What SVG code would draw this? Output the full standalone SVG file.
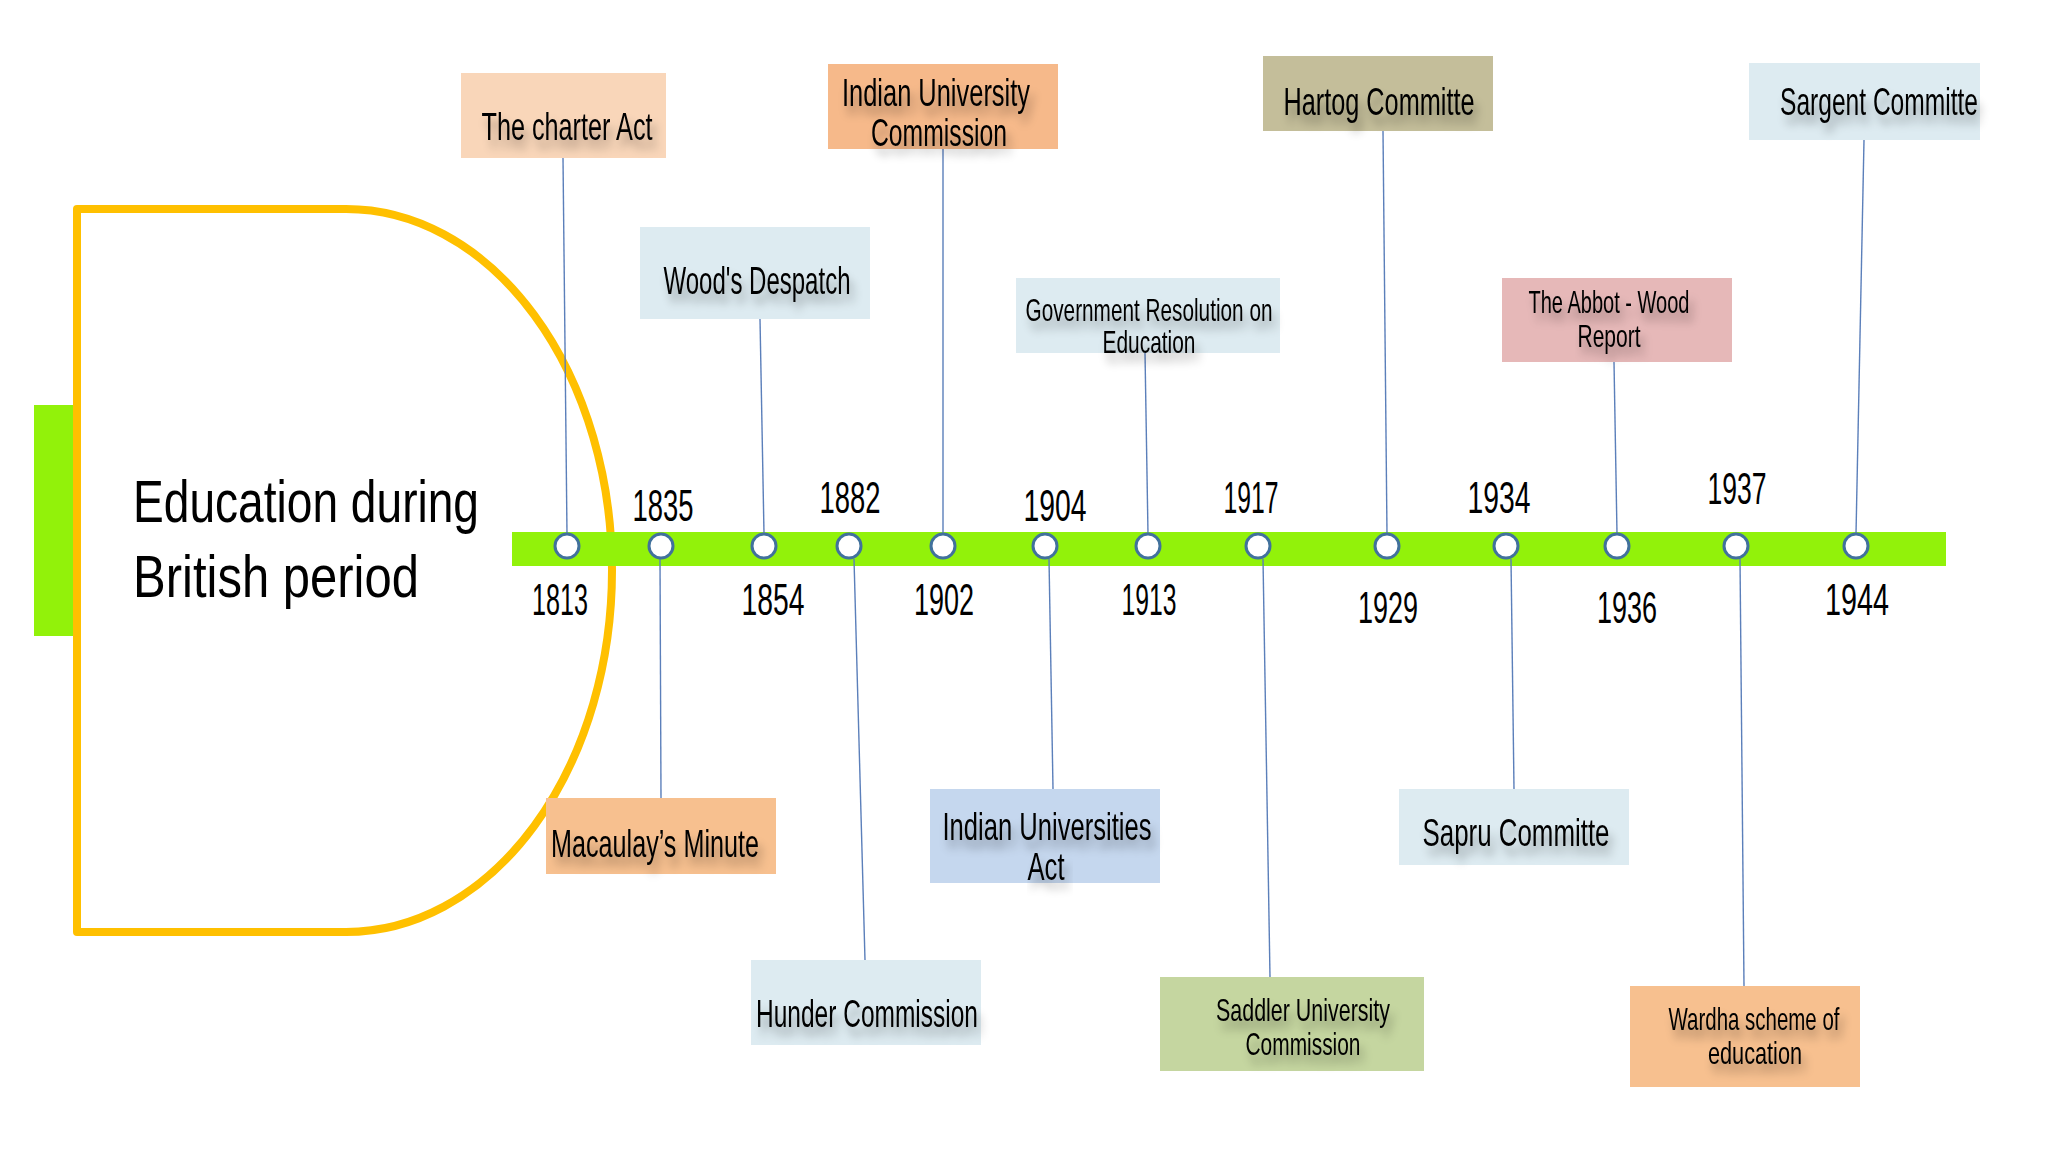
<svg xmlns="http://www.w3.org/2000/svg" width="2048" height="1152" viewBox="0 0 2048 1152">
<defs>
<filter id="ts" x="-10%" y="-30%" width="130%" height="190%">
<feGaussianBlur in="SourceAlpha" stdDeviation="5"/>
<feOffset dx="4" dy="9" result="b"/>
<feComponentTransfer><feFuncA type="linear" slope="0.35"/></feComponentTransfer>
<feMerge><feMergeNode/><feMergeNode in="SourceGraphic"/></feMerge>
</filter>
</defs>
<style>
text{font-family:"Liberation Sans",Arial,sans-serif;fill:#000;}
.lbl{font-size:38px;text-anchor:middle;filter:url(#ts);}
.sm{font-size:32px;text-anchor:middle;filter:url(#ts);}
.yr{font-size:44px;text-anchor:middle;}
.title{font-size:60px;}
.con{stroke:#5B7FBA;stroke-width:1.4;fill:none;}
.dot{fill:#fff;stroke:#41719C;stroke-width:3;}
</style>
<rect width="2048" height="1152" fill="#fff"/>
<g id="title-block">
<rect x="34" y="405" width="40" height="231" fill="#92F20A"/>
<path d="M77,209 H346 A266,361.5 0 0 1 346,932 H77 Z" fill="#fff" stroke="#FFC000" stroke-width="8" stroke-linejoin="round"/>
<text class="title" x="133" y="522" textLength="346" lengthAdjust="spacingAndGlyphs">Education during</text>
<text class="title" x="133" y="597" textLength="286" lengthAdjust="spacingAndGlyphs">British period</text>
</g>
<g id="timeline">
<rect x="512" y="532" width="1434" height="34" fill="#92F20A"/>
</g>
<g id="connectors">
<line class="con" x1="563" y1="158" x2="567" y2="534"/>
<line class="con" x1="760" y1="319" x2="764" y2="534"/>
<line class="con" x1="943" y1="149" x2="943" y2="534"/>
<line class="con" x1="1145" y1="353" x2="1148" y2="534"/>
<line class="con" x1="1383" y1="131" x2="1387" y2="534"/>
<line class="con" x1="1614" y1="362" x2="1617" y2="534"/>
<line class="con" x1="1864" y1="140" x2="1856" y2="534"/>
<line class="con" x1="660" y1="559" x2="661" y2="798"/>
<line class="con" x1="854" y1="559" x2="865" y2="960"/>
<line class="con" x1="1049" y1="559" x2="1053" y2="789"/>
<line class="con" x1="1263" y1="559" x2="1270" y2="977"/>
<line class="con" x1="1511" y1="559" x2="1514" y2="789"/>
<line class="con" x1="1740" y1="559" x2="1744" y2="986"/>
</g>
<g id="dots">
<circle class="dot" cx="567" cy="546" r="12"/>
<circle class="dot" cx="661" cy="546" r="12"/>
<circle class="dot" cx="764" cy="546" r="12"/>
<circle class="dot" cx="849" cy="546" r="12"/>
<circle class="dot" cx="943" cy="546" r="12"/>
<circle class="dot" cx="1045" cy="546" r="12"/>
<circle class="dot" cx="1148" cy="546" r="12"/>
<circle class="dot" cx="1258" cy="546" r="12"/>
<circle class="dot" cx="1387" cy="546" r="12"/>
<circle class="dot" cx="1506" cy="546" r="12"/>
<circle class="dot" cx="1617" cy="546" r="12"/>
<circle class="dot" cx="1736" cy="546" r="12"/>
<circle class="dot" cx="1856" cy="546" r="12"/>
</g>
<g id="years">
<text class="yr" x="560" y="615" textLength="56" lengthAdjust="spacingAndGlyphs">1813</text>
<text class="yr" x="663" y="521" textLength="61" lengthAdjust="spacingAndGlyphs">1835</text>
<text class="yr" x="773" y="615" textLength="63" lengthAdjust="spacingAndGlyphs">1854</text>
<text class="yr" x="850" y="513" textLength="61" lengthAdjust="spacingAndGlyphs">1882</text>
<text class="yr" x="944" y="615" textLength="60" lengthAdjust="spacingAndGlyphs">1902</text>
<text class="yr" x="1055" y="521" textLength="63" lengthAdjust="spacingAndGlyphs">1904</text>
<text class="yr" x="1149" y="615" textLength="55" lengthAdjust="spacingAndGlyphs">1913</text>
<text class="yr" x="1251" y="513" textLength="55" lengthAdjust="spacingAndGlyphs">1917</text>
<text class="yr" x="1388" y="623" textLength="60" lengthAdjust="spacingAndGlyphs">1929</text>
<text class="yr" x="1499" y="513" textLength="63" lengthAdjust="spacingAndGlyphs">1934</text>
<text class="yr" x="1627" y="623" textLength="60" lengthAdjust="spacingAndGlyphs">1936</text>
<text class="yr" x="1737" y="504" textLength="59" lengthAdjust="spacingAndGlyphs">1937</text>
<text class="yr" x="1857" y="615" textLength="64" lengthAdjust="spacingAndGlyphs">1944</text>
</g>
<g id="n-charter-act">
<rect x="461" y="73" width="205" height="85" fill="#F9D6B9"/>
<text class="lbl" x="567" y="140" textLength="171" lengthAdjust="spacingAndGlyphs">The charter Act</text>
</g>
<g id="n-woods-despatch">
<rect x="640" y="227" width="230" height="92" fill="#DDEBF1"/>
<text class="lbl" x="757" y="294" textLength="187" lengthAdjust="spacingAndGlyphs">Wood's Despatch</text>
</g>
<g id="n-indian-university-commission">
<rect x="828" y="64" width="230" height="85" fill="#F6B98A"/>
<text class="lbl" x="936" y="106" textLength="188" lengthAdjust="spacingAndGlyphs">Indian University</text>
<text class="lbl" x="939" y="146" textLength="136" lengthAdjust="spacingAndGlyphs">Commission</text>
</g>
<g id="n-government-resolution">
<rect x="1016" y="278" width="264" height="75" fill="#DDEBF1"/>
<text class="sm" x="1149" y="321" textLength="247" lengthAdjust="spacingAndGlyphs">Government Resolution on</text>
<text class="sm" x="1149" y="353" textLength="93" lengthAdjust="spacingAndGlyphs">Education</text>
</g>
<g id="n-hartog-committe">
<rect x="1263" y="56" width="230" height="75" fill="#C4BE9A"/>
<text class="lbl" x="1379" y="115" textLength="191" lengthAdjust="spacingAndGlyphs">Hartog Committe</text>
</g>
<g id="n-abbot-wood-report">
<rect x="1502" y="278" width="230" height="84" fill="#E6B8B8"/>
<text class="sm" x="1609" y="313" textLength="161" lengthAdjust="spacingAndGlyphs">The  Abbot - Wood</text>
<text class="sm" x="1609" y="347" textLength="63" lengthAdjust="spacingAndGlyphs">Report</text>
</g>
<g id="n-sargent-committe">
<rect x="1749" y="63" width="231" height="77" fill="#DDEBF1"/>
<text class="lbl" x="1879" y="115" textLength="198" lengthAdjust="spacingAndGlyphs">Sargent Committe</text>
</g>
<g id="n-macaulays-minute">
<rect x="546" y="798" width="230" height="76" fill="#F7C08F"/>
<text class="lbl" x="655" y="857" textLength="208" lengthAdjust="spacingAndGlyphs">Macaulay’s Minute</text>
</g>
<g id="n-hunder-commission">
<rect x="751" y="960" width="230" height="85" fill="#DDEBF1"/>
<text class="lbl" x="867" y="1027" textLength="222" lengthAdjust="spacingAndGlyphs">Hunder Commission</text>
</g>
<g id="n-indian-universities-act">
<rect x="930" y="789" width="230" height="94" fill="#C5D7EE"/>
<text class="lbl" x="1047" y="840" textLength="209" lengthAdjust="spacingAndGlyphs">Indian Universities</text>
<text class="lbl" x="1046" y="880" textLength="37" lengthAdjust="spacingAndGlyphs">Act</text>
</g>
<g id="n-saddler-university-commission">
<rect x="1160" y="977" width="264" height="94" fill="#C5D6A0"/>
<text class="sm" x="1303" y="1021" textLength="174" lengthAdjust="spacingAndGlyphs">Saddler University</text>
<text class="sm" x="1303" y="1055" textLength="115" lengthAdjust="spacingAndGlyphs">Commission</text>
</g>
<g id="n-sapru-committe">
<rect x="1399" y="789" width="230" height="76" fill="#DDEBF1"/>
<text class="lbl" x="1516" y="846" textLength="187" lengthAdjust="spacingAndGlyphs">Sapru Committe</text>
</g>
<g id="n-wardha-scheme">
<rect x="1630" y="986" width="230" height="101" fill="#F7C08F"/>
<text class="sm" x="1754" y="1030" textLength="171" lengthAdjust="spacingAndGlyphs">Wardha scheme of</text>
<text class="sm" x="1755" y="1064" textLength="94" lengthAdjust="spacingAndGlyphs">education</text>
</g>
</svg>
